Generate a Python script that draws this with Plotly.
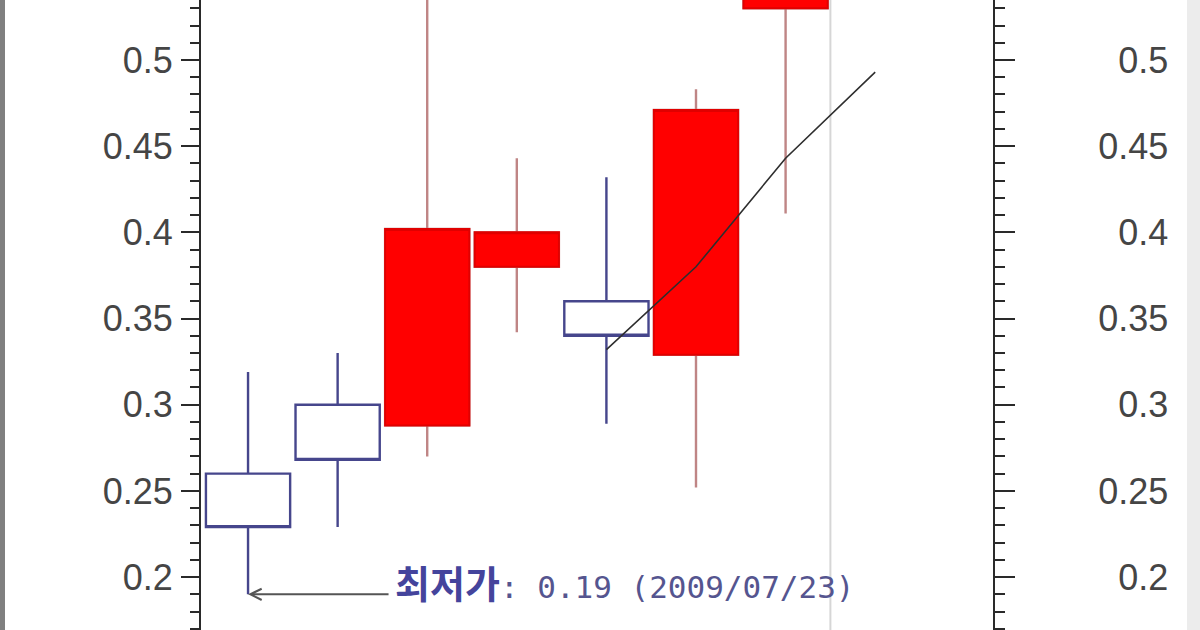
import plotly.graph_objects as go

# ---- data ----
dates = ["2009/07/23", "2009/07/24", "2009/07/27", "2009/07/28",
         "2009/07/29", "2009/07/30", "2009/07/31", "2009/08/03"]
candle_dates = dates[:7]
open_ = [0.260, 0.300, 0.288, 0.380, 0.360, 0.329, 0.530]
close = [0.229, 0.268, 0.402, 0.400, 0.340, 0.471, 0.605]
high = [0.319, 0.330, 0.560, 0.443, 0.432, 0.483, 0.620]
low = [0.190, 0.229, 0.270, 0.342, 0.289, 0.252, 0.411]

ma_dates = dates[4:8]
ma5 = [0.332, 0.380, 0.443, 0.493]

y_ticks = [0.2, 0.25, 0.3, 0.35, 0.4, 0.45, 0.5]
y_tick_labels = ["0.2", "0.25", "0.3", "0.35", "0.4", "0.45", "0.5"]

low_prefix = "최저가"
low_rest = ": 0.19 (2009/07/23)"

# ---- layout constants ----
W, H = 1200, 630
L, R = 201, 207
PW = W - L - R

up = [c >= o for o, c in zip(open_, close)]


def pick(seq, flag):
    return [v for v, u in zip(seq, up) if u == flag]


body_top = [max(o, c) for o, c in zip(open_, close)]
body_bot = [min(o, c) for o, c in zip(open_, close)]

fig = go.Figure()

# falling candles (hollow, blue outline)
fig.add_trace(go.Candlestick(
    x=pick(candle_dates, False), open=pick(open_, False), high=pick(high, False),
    low=pick(low, False), close=pick(close, False),
    increasing=dict(line=dict(color="#46468c", width=2.4), fillcolor="white"),
    decreasing=dict(line=dict(color="#46468c", width=2.4), fillcolor="white"),
    whiskerwidth=0, showlegend=False, hoverinfo="skip",
))

# moving average line
fig.add_trace(go.Scatter(
    x=ma_dates, y=ma5, mode="lines",
    line=dict(color="#2e2e2e", width=1.6),
    showlegend=False, hoverinfo="skip",
))

# rising candles (filled red) - wicks in muted rose
fig.add_trace(go.Candlestick(
    x=pick(candle_dates, True), open=pick(open_, True), high=pick(high, True),
    low=pick(low, True), close=pick(close, True),
    increasing=dict(line=dict(color="#bf8585", width=2.4), fillcolor="#ff0000"),
    decreasing=dict(line=dict(color="#bf8585", width=2.4), fillcolor="#ff0000"),
    whiskerwidth=0, showlegend=False, hoverinfo="skip",
))
# rising candle bodies re-drawn with a red edge
fig.add_trace(go.Candlestick(
    x=pick(candle_dates, True), open=pick(open_, True), high=pick(body_top, True),
    low=pick(body_bot, True), close=pick(close, True),
    increasing=dict(line=dict(color="#e00000", width=2), fillcolor="#ff0000"),
    decreasing=dict(line=dict(color="#e00000", width=2), fillcolor="#ff0000"),
    whiskerwidth=0, showlegend=False, hoverinfo="skip",
))

# invisible companion so the right-hand axis is drawn
fig.add_trace(go.Scatter(
    x=ma_dates, y=ma5, yaxis="y2", mode="lines",
    line=dict(width=0), opacity=0, showlegend=False, hoverinfo="skip",
))

yrange = [0.1693, 0.5348]
tickfont = dict(family="Liberation Sans, Arial, sans-serif", size=36, color="#454545")

fig.update_layout(
    width=W, height=H,
    margin=dict(l=L, r=R, t=0, b=0, pad=0),
    paper_bgcolor="white", plot_bgcolor="white",
    boxgap=0.06, boxgroupgap=0,
    showlegend=False,
    xaxis=dict(
        type="category", categoryorder="array", categoryarray=dates,
        range=[-0.525, 8.315], showticklabels=False, showgrid=False,
        zeroline=False, showline=False, ticks="", rangeslider=dict(visible=False),
    ),
    yaxis=dict(
        range=yrange, tickmode="array", tickvals=y_ticks, ticktext=y_tick_labels,
        ticks="outside", ticklen=18, tickwidth=2, tickcolor="#2a2a2a",
        showline=True, linecolor="#2a2a2a", linewidth=2,
        showgrid=False, zeroline=False, tickfont=tickfont,
        ticklabelstandoff=1,
        minor=dict(tickmode="linear", tick0=0, dtick=0.01, ticks="outside",
                   ticklen=9, tickwidth=2, tickcolor="#2a2a2a", showgrid=False),
    ),
    yaxis2=dict(
        overlaying="y", side="right", anchor="x",
        range=yrange, tickmode="array", tickvals=y_ticks,
        ticktext=["\u2007" * (4 - len(t)) + t for t in y_tick_labels],
        ticks="outside", ticklen=20, tickwidth=2, tickcolor="#2a2a2a",
        showline=True, linecolor="#2a2a2a", linewidth=2,
        showgrid=False, zeroline=False, tickfont=tickfont,
        ticklabelstandoff=76,
        minor=dict(tickmode="linear", tick0=0, dtick=0.01, ticks="outside",
                   ticklen=10, tickwidth=2, tickcolor="#2a2a2a", showgrid=False),
    ),
    shapes=[
        # separator after the last candle
        dict(type="line", xref="x", yref="paper",
             x0=len(candle_dates) - 0.5, x1=len(candle_dates) - 0.5, y0=0, y1=1,
             line=dict(color="#d6d6d6", width=2), layer="below"),
        # frame strips at the image edges
        dict(type="rect", xref="paper", yref="paper",
             x0=-L / PW, x1=(5 - L) / PW, y0=0, y1=1,
             fillcolor="#808080", line=dict(width=0)),
        dict(type="rect", xref="paper", yref="paper",
             x0=(1187 - L) / PW, x1=(W - L) / PW, y0=0, y1=1,
             fillcolor="#ececec", line=dict(width=0)),
    ],
    annotations=[
        dict(x=dates[0], y=low[0], xref="x", yref="y", text="",
             showarrow=True, ax=142, ay=0, axref="pixel", ayref="pixel",
             arrowhead=5, arrowsize=1.1, arrowwidth=2, arrowcolor="#555555",
             standoff=0, startstandoff=0),
        dict(x=dates[0], y=low[0], xref="x", yref="y",
             text="<span style='font-size:38px;font-weight:bold;color:#44449c'>"
                  + low_prefix + "</span>" + low_rest,
             showarrow=False, xanchor="left", yanchor="middle",
             xshift=145, yshift=9,
             font=dict(family="DejaVu Sans Mono, Noto Sans CJK KR", size=31,
                       color="#55558f")),
    ],
)

fig.write_html("out.html", config={"displayModeBar": False},
               post_script="document.body.style.margin='0';")
